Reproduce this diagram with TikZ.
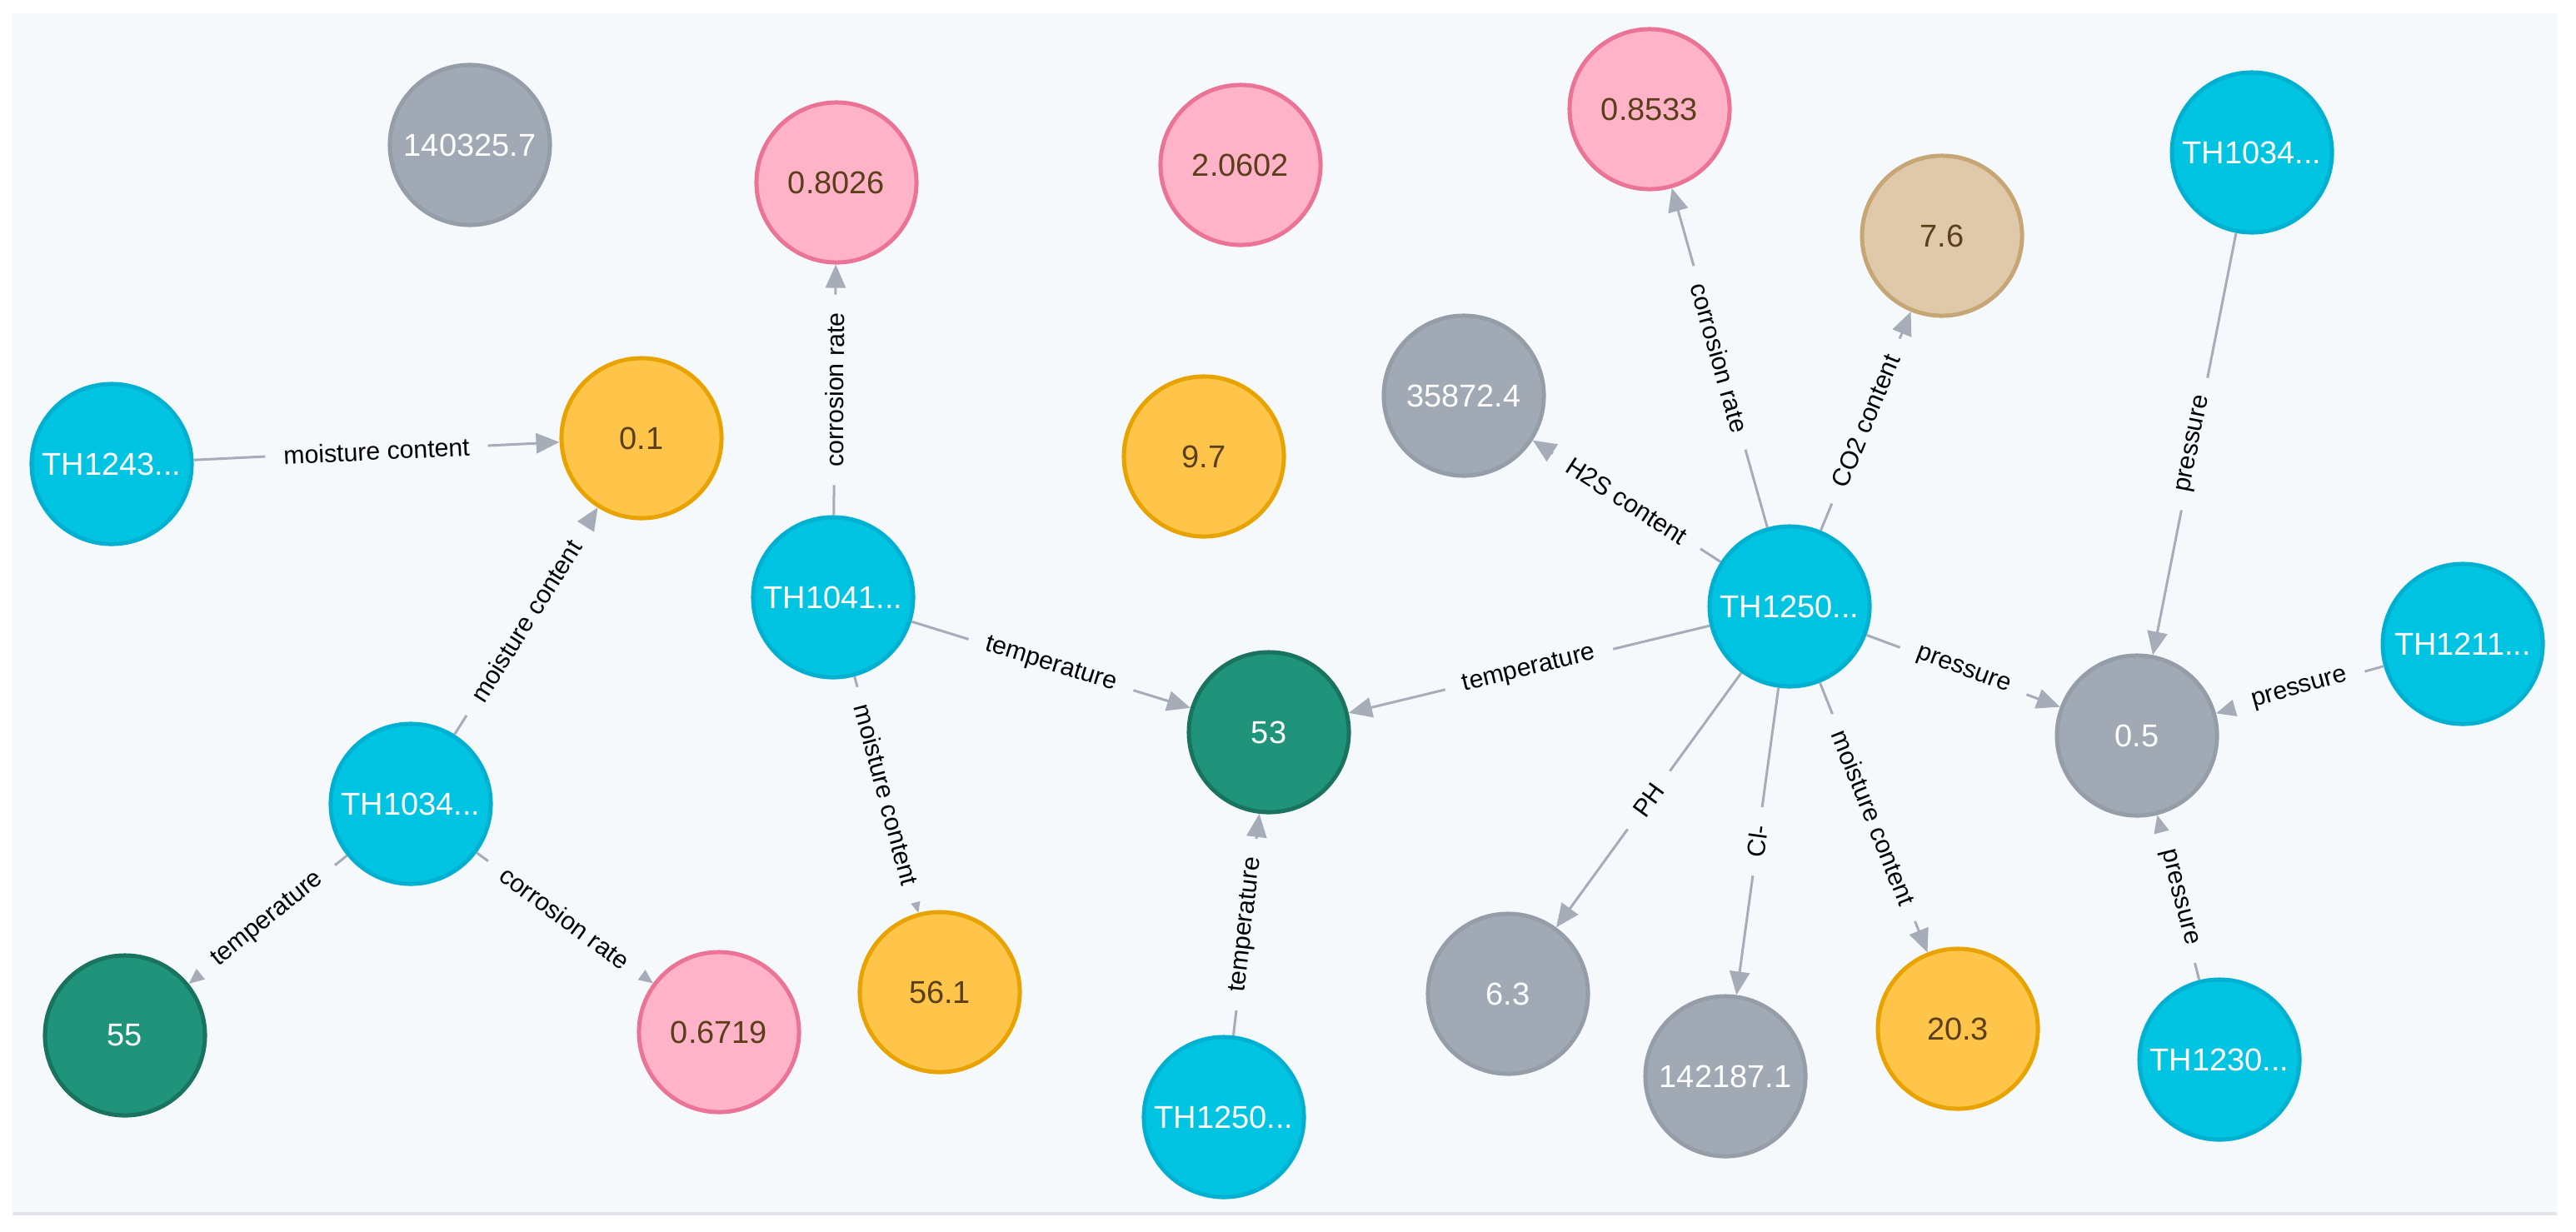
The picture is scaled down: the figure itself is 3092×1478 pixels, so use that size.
\documentclass[tikz,border=0pt]{standalone}
\usepackage{fontspec}
\setmainfont{Liberation Sans}
\usetikzlibrary{arrows.meta}
\definecolor{bgc}{HTML}{F5F9FC}
\definecolor{botline}{HTML}{E1E5EA}
\definecolor{cyF}{HTML}{00C4E2}
\definecolor{cyD}{HTML}{00B0D0}
\definecolor{grF}{HTML}{A1A9B5}
\definecolor{grD}{HTML}{959DA9}
\definecolor{gnF}{HTML}{1F947A}
\definecolor{gnD}{HTML}{19735F}
\definecolor{pkF}{HTML}{FFB3C9}
\definecolor{pkD}{HTML}{EB7396}
\definecolor{ogF}{HTML}{FFC44A}
\definecolor{ogD}{HTML}{E8A300}
\definecolor{tnF}{HTML}{DFC9AA}
\definecolor{tnD}{HTML}{C7A676}
\definecolor{txD}{HTML}{5B3F1A}
\definecolor{edgeC}{HTML}{A6ADB8}
\begin{document}
\begin{tikzpicture}[x=0.01cm,y=-0.01cm,
  nd/.style={circle,minimum size=1.92cm,inner sep=0pt,line width=0.05cm,font=\fontsize{10.8}{12}\selectfont},
  cy/.style={nd,fill=cyF,draw=cyD,text=white},
  gr/.style={nd,fill=grF,draw=grD,text=white},
  gn/.style={nd,fill=gnF,draw=gnD,text=white},
  pk/.style={nd,fill=pkF,draw=pkD,text=txD},
  og/.style={nd,fill=ogF,draw=ogD,text=txD},
  tn/.style={nd,fill=tnF,draw=tnD,text=txD},
  edge/.style={draw=edgeC,line width=0.03cm,-{Triangle[length=0.28cm,width=0.24cm]}},
  lbl/.style={sloped,fill=bgc,inner xsep=0.22cm,inner ysep=0.02cm,font=\fontsize{8.6}{10}\selectfont,text=black}
]
\useasboundingbox (0,0) rectangle (3092,1478);
\fill[white] (0,0) rectangle (3092,1478);
\fill[bgc] (15,16) rectangle (3069,1456);
\fill[botline] (15,1455) rectangle (3069,1459);

% nodes
\node[gr] (a140) at (564,174) {140325.7};
\node[pk] (a8026) at (1004,219) {0.8026};
\node[pk] (a20602) at (1489,198) {2.0602};
\node[pk] (a8533) at (1980,131) {0.8533};
\node[tn] (a76) at (2331,283) {7.6};
\node[cy] (t1034a) at (2703,183) {TH1034...};
\node[cy] (t1243) at (134,557) {TH1243...};
\node[og] (a01) at (770,526) {0.1};
\node[og] (a97) at (1445,548) {9.7};
\node[gr] (a358) at (1757,475) {35872.4};
\node[cy] (t1041) at (1000,717) {TH1041...};
\node[cy] (t1250a) at (2148,728) {TH1250...};
\node[cy] (t1211) at (2956,773) {TH1211...};
\node[gn] (a53) at (1523,879) {53};
\node[gr] (a05) at (2565,883) {0.5};
\node[cy] (t1034b) at (493,965) {TH1034...};
\node[gn] (a55) at (150,1243) {55};
\node[pk] (a6719) at (863,1239) {0.6719};
\node[og] (a561) at (1128,1191) {56.1};
\node[cy] (t1250b) at (1469,1341) {TH1250...};
\node[gr] (a63) at (1810,1193) {6.3};
\node[gr] (a1421) at (2071,1292) {142187.1};
\node[og] (a203) at (2350,1235) {20.3};
\node[cy] (t1230) at (2664,1272) {TH1230...};

% edges
\draw[edge] (t1243) -- node[lbl]{moisture content} (a01);
\draw[edge] (t1034b) -- node[lbl]{moisture content} (a01);
\draw[edge] (t1034b) -- node[lbl]{temperature} (a55);
\draw[edge] (t1034b) -- node[lbl]{corrosion rate} (a6719);
\draw[edge] (t1041) -- node[lbl]{corrosion rate} (a8026);
\draw[edge] (t1041) -- node[lbl]{temperature} (a53);
\draw[edge] (t1041) -- node[lbl]{moisture content} (a561);
\draw[edge] (t1250b) -- node[lbl]{temperature} (a53);
\draw[edge] (t1250a) -- node[lbl]{temperature} (a53);
\draw[edge] (t1250a) -- node[lbl]{H2S content} (a358);
\draw[edge] (t1250a) -- node[lbl]{corrosion rate} (a8533);
\draw[edge] (t1250a) -- node[lbl]{CO2 content} (a76);
\draw[edge] (t1250a) -- node[lbl]{pressure} (a05);
\draw[edge] (t1250a) -- node[lbl]{PH} (a63);
\draw[edge] (t1250a) -- node[lbl]{Cl-} (a1421);
\draw[edge] (t1250a) -- node[lbl]{moisture content} (a203);
\draw[edge] (t1034a) -- node[lbl]{pressure} (a05);
\draw[edge] (t1211) -- node[lbl]{pressure} (a05);
\draw[edge] (t1230) -- node[lbl]{pressure} (a05);
\end{tikzpicture}
\end{document}
